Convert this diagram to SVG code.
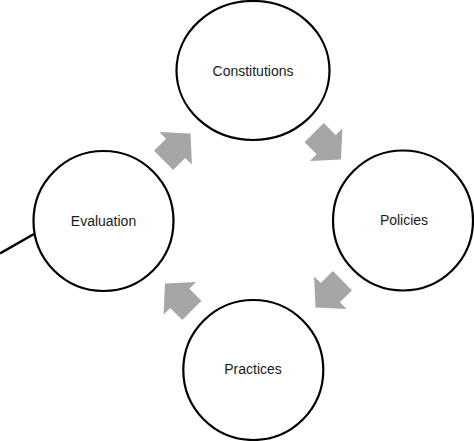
<svg xmlns="http://www.w3.org/2000/svg" xmlns:xlink="http://www.w3.org/1999/xlink" width="474" height="441" viewBox="0 0 474 441">
<style>
.node{fill:#fff;stroke:#000;stroke-width:2.2}
.lbl{font-family:"Liberation Sans",Arial,sans-serif;font-size:14px;fill:#1a1a1a;text-anchor:middle}
.arr{fill:#a6a6a6;stroke:none}
.ln{stroke:#000;stroke-width:2.5;fill:none}
</style>
<defs>
<polygon id="arrow" class="arr" points="0,0 -21,-23 -21,-13.5 -38,-13.5 -38,13.5 -21,13.5 -21,23"/>
</defs>
<rect width="474" height="441" fill="#fff"/>
<g id="connectors">
<line class="ln" x1="0" y1="253.5" x2="34" y2="234"/>
<use xlink:href="#arrow" href="#arrow" transform="translate(190.5,133.5) rotate(-45)"/>
<use xlink:href="#arrow" href="#arrow" transform="translate(341,159.5) rotate(45)"/>
<use xlink:href="#arrow" href="#arrow" transform="translate(315.5,307.5) rotate(135)"/>
<use xlink:href="#arrow" href="#arrow" transform="translate(165,283.5) rotate(-135)"/>
</g>
<g id="constitutions">
<ellipse class="node" cx="253" cy="70.5" rx="76.5" ry="69.5"/>
<text class="lbl" x="253" y="76">Constitutions</text>
</g>
<g id="policies">
<circle class="node" cx="403" cy="220.5" r="70"/>
<text class="lbl" x="404" y="225">Policies</text>
</g>
<g id="practices">
<circle class="node" cx="253.3" cy="370" r="70"/>
<text class="lbl" x="253" y="374">Practices</text>
</g>
<g id="evaluation">
<circle class="node" cx="103.5" cy="221" r="70"/>
<text class="lbl" x="103.5" y="226">Evaluation</text>
</g>
</svg>
